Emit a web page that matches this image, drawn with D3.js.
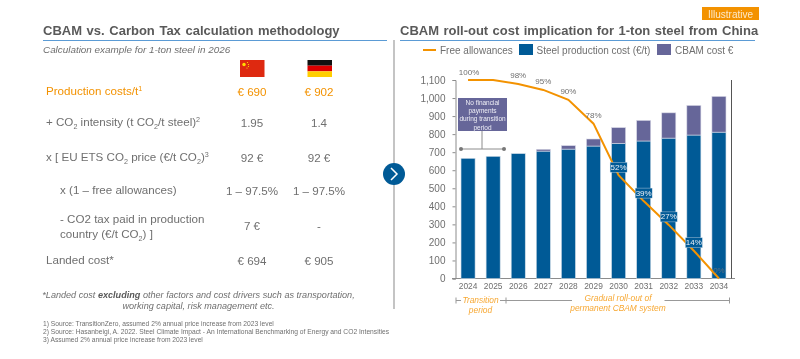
<!DOCTYPE html>
<html><head><meta charset="utf-8">
<script src="https://cdn.jsdelivr.net/npm/d3@7/dist/d3.min.js"></script>
<style>html,body{margin:0;background:#fff}svg{display:block;font-family:"Liberation Sans",Arial,sans-serif;filter:blur(.35px)}</style>
</head><body><svg id="c" width="800" height="359"></svg>
<script>
const years = ["2024","2025","2026","2027","2028","2029","2030","2031","2032","2033","2034"];
const steelCost = [666,677,692,706,717,734,749,762,778,795,811];
const cbamCost = [0,0,0,10,19,39,87,114,140,164,198];
const freeAllowances = [100,100,98,95,90,78,52,39,27,14,0];
const allowanceLabels = ["100%",null,"98%","95%","90%","78%","52%","39%","27%","14%","0%"];
const costTicks = [0,100,200,300,400,500,600,700,800,900,1000,1100];
const rowLabels = [
  [["Production costs/t"],["1","sup"]],
  [["+ CO"],["2","sub"],[" intensity (t CO"],["2","sub"],["/t steel)"],["2","sup"]],
  [["x [ EU ETS CO"],["2","sub"],[" price (€/t CO"],["2","sub"],[")"],["3","sup"]],
  [["x (1 – free allowances)"]],
  [["- CO2 tax paid in production"]],
  [["country (€/t CO"],["2","sub"],[") ]"]],
  [["Landed cost*"]]
];
const chinaValues = ["€ 690","1.95","92 €","1 – 97.5%","","","€ 694"];
const germanyValues = ["€ 902","1.4","92 €","1 – 97.5%","","","€ 905"];
const taxValues = ["7 €","-"];
const footnotes = ["1) Source: TransitionZero, assumed 2% annual price increase from 2023 level",
 "2) Source: Hasanbeigi, A. 2022. Steel Climate Impact - An International Benchmarking of Energy and CO2 Intensities",
 "3) Assumed 2% annual price increase from 2023 level"];

const GREY="#6f6f6f", DARK="#595959", ORANGE="#F39200", BLUE="#005A96", PURPLE="#666699", RULE="#5B9BD5";
const svg=d3.select("#c");
const txt=(x,y,s,o={})=>svg.append("text").attr("x",x).attr("y",y).text(s)
  .attr("font-size",o.size||10).attr("fill",o.fill||GREY).attr("text-anchor",o.anchor||"start")
  .attr("font-weight",o.weight||null).attr("font-style",o.style||null)
  .attr("word-spacing",o.ws||null).attr("dominant-baseline","central");
function rich(x,y,segs,o){
  const t=svg.append("text").attr("x",x).attr("y",y+4).attr("font-size",o.size).attr("fill",o.fill);
  let last="";
  segs.forEach(([s,k])=>{
    const sp=t.append("tspan").text(s);
    if(k){sp.attr("font-size",o.size*0.62).attr("dy",k==="sub"?3:-4);}
    else if(last){sp.attr("dy",last==="sub"?-3:4);}
    last=k||"";
  });
}
// headers
txt(43,30,"CBAM vs. Carbon Tax calculation methodology",{size:13,weight:"bold",fill:DARK,ws:1});
txt(400,30,"CBAM roll-out cost implication for 1-ton steel from China",{size:13,weight:"bold",fill:DARK,ws:0.8});
[[43,387],[400,755]].forEach(([a,b])=>svg.append("line").attr("x1",a).attr("x2",b).attr("y1",40.5).attr("y2",40.5).attr("stroke",RULE));
txt(43,49,"Calculation example for 1-ton steel in 2026",{size:9.9,style:"italic"});
svg.append("rect").attr("x",702).attr("y",7).attr("width",57).attr("height",13).attr("fill",ORANGE);
txt(730.5,14,"Illustrative",{size:10,fill:"#fde9c8",anchor:"middle"});
// divider and arrow
svg.append("line").attr("x1",394).attr("x2",394).attr("y1",40).attr("y2",309).attr("stroke","#c4c4c4").attr("stroke-width",2);
svg.append("circle").attr("cx",394).attr("cy",174).attr("r",11).attr("fill",BLUE);
svg.append("path").attr("d",d3.line()([[391,168],[397,174],[391,180]])).attr("fill","none").attr("stroke","#fff").attr("stroke-width",1.5);
// flags
const cn=svg.append("g");
cn.append("rect").attr("x",240).attr("y",60).attr("width",24.5).attr("height",17).attr("fill","#DE2910");
cn.append("circle").attr("cx",244).attr("cy",64.5).attr("r",1.7).attr("fill","#FFDE00");
[[247.5,62.5],[248.5,64.5],[248.5,66.5],[247,68]].forEach(([x,y])=>cn.append("circle").attr("cx",x).attr("cy",y).attr("r",.6).attr("fill","#FFDE00"));
["#111","#DD0000","#FFCE00"].forEach((c,i)=>svg.append("rect").attr("x",307.5).attr("y",60+i*5.67).attr("width",24.5).attr("height",5.67).attr("fill",c));
// table
const rowY=[91,122,157,190,219,234,260], rowX=[46,46,46,60,60,60,46];
rowLabels.forEach((segs,i)=>rich(rowX[i],rowY[i],segs,{size:11.6,fill:i===0?ORANGE:GREY}));
const valY=[91,122,157,190,0,0,260];
chinaValues.forEach((v,i)=>{if(v)txt(252,valY[i],v,{size:11.6,anchor:"middle",fill:i===0?ORANGE:GREY});});
germanyValues.forEach((v,i)=>{if(v)txt(319,valY[i],v,{size:11.6,anchor:"middle",fill:i===0?ORANGE:GREY});});
taxValues.forEach((v,i)=>txt(i?319:252,225,v,{size:11.6,anchor:"middle"}));
// note
const note=svg.append("text").attr("x",198.5).attr("y",298).attr("text-anchor","middle").attr("font-size",9.1).attr("font-style","italic").attr("fill",GREY);
note.append("tspan").text("*Landed cost ");
note.append("tspan").text("excluding").attr("font-weight","bold").attr("fill",DARK);
note.append("tspan").text(" other factors and cost drivers such as transportation,");
txt(198.5,306,"working capital, risk management etc.",{size:9.1,style:"italic",anchor:"middle"});
footnotes.forEach((f,i)=>txt(43,323.5+i*8,f,{size:6.7}));
// chart
const x=d3.scaleBand().domain(years).range([455.5,731.5]).paddingInner(0.44).paddingOuter(0.22);
const y=d3.scaleLinear().domain([0,1100]).range([278.5,80]);
const yPct=d3.scaleLinear().domain([0,100]).range([278.5,80]);
const cx=d=>x(d)+x.bandwidth()/2;
const stack=years.map((d,i)=>({year:d,steel:steelCost[i],cbam:cbamCost[i]}));
const ax=svg.append("g").attr("transform","translate(455.5,0)").call(d3.axisLeft(y).tickValues(costTicks).tickFormat(d3.format(",")).tickSize(3).tickPadding(7));
ax.selectAll("text").attr("font-size",10).attr("fill",GREY);
ax.attr("font-family",null);
ax.selectAll("line,path").attr("stroke","#8c8c8c");
const bx=svg.append("g").attr("transform","translate(0,278.5)").call(d3.axisBottom(x).tickSize(0).tickPadding(5));
bx.attr("font-family",null);
bx.selectAll("text").attr("font-size",8.4).attr("fill",GREY);
bx.select("path").remove();
svg.append("line").attr("x1",452).attr("x2",735).attr("y1",278.5).attr("y2",278.5).attr("stroke","#8c8c8c");
svg.append("line").attr("x1",731.5).attr("x2",731.5).attr("y1",80).attr("y2",278.5).attr("stroke","#555");
const bars=svg.append("g").selectAll("g").data(stack).join("g");
bars.append("rect").attr("x",d=>x(d.year)).attr("width",x.bandwidth()).attr("y",d=>y(d.steel)).attr("height",d=>y(0)-y(d.steel)).attr("fill",BLUE).attr("stroke","#cfdde8").attr("stroke-width",.6);
bars.filter(d=>d.cbam>0).append("rect").attr("x",d=>x(d.year)).attr("width",x.bandwidth()).attr("y",d=>y(d.steel+d.cbam)).attr("height",d=>y(d.steel)-y(d.steel+d.cbam)).attr("fill",PURPLE).attr("stroke","#d8d8e6").attr("stroke-width",.6);
svg.append("path").datum(freeAllowances).attr("fill","none").attr("stroke",ORANGE).attr("stroke-width",2)
  .attr("d",d3.line().x((d,i)=>cx(years[i])).y(d=>yPct(d)));
allowanceLabels.forEach((l,i)=>{
  if(!l) return;
  const px=cx(years[i])+(i===0?1:0), py=yPct(freeAllowances[i])-8;
  const boxed=i>=6&&i<10;
  if(boxed) svg.append("rect").attr("x",px-8.5).attr("y",py-5).attr("width",17).attr("height",10).attr("fill",BLUE).attr("stroke","#d5e2ec").attr("stroke-width",.4);
  txt(px,py,l,{size:8,anchor:"middle",fill:boxed?"#e8eef4":i===10?"#5a6f80":GREY});
});
// callout
svg.append("rect").attr("x",458).attr("y",98).attr("width",49).attr("height",33).attr("fill",PURPLE);
["No financial","payments","during transition","period"].forEach((s,i)=>txt(482.5,102.5+i*8.2,s,{size:6.5,fill:"#eeeef6",anchor:"middle"}));
svg.append("path").attr("d","M461 149H504M482 131V149").attr("fill","none").attr("stroke","#8c8c8c");
[461,504].forEach(v=>svg.append("circle").attr("cx",v).attr("cy",149).attr("r",2).attr("fill","#777"));
// legend
svg.append("line").attr("x1",423).attr("x2",436).attr("y1",50).attr("y2",50).attr("stroke",ORANGE).attr("stroke-width",2);
txt(440,50.5,"Free allowances",{size:10});
svg.append("rect").attr("x",519).attr("y",44).attr("width",14).attr("height",11).attr("fill",BLUE);
txt(536.5,50.5,"Steel production cost (€/t)",{size:10});
svg.append("rect").attr("x",657).attr("y",44).attr("width",14).attr("height",11).attr("fill",PURPLE);
txt(675,50.5,"CBAM cost €",{size:10});
// period brackets
svg.append("path").attr("d","M456 297.5V303.5M506 297.5V303.5M729.5 297.5V303.5M456 300.5H461M500 300.5H572M664.5 300.5H729.5").attr("fill","none").attr("stroke","#999");
const OR2="#F7A833";
txt(480.5,300,"Transition",{size:8.4,style:"italic",fill:OR2,anchor:"middle"});
txt(480.5,310,"period",{size:8.4,style:"italic",fill:OR2,anchor:"middle"});
txt(618,298,"Gradual roll-out of",{size:8.4,style:"italic",fill:OR2,anchor:"middle"});
txt(618,308,"permanent CBAM system",{size:8.4,style:"italic",fill:OR2,anchor:"middle"});
</script></body></html>
